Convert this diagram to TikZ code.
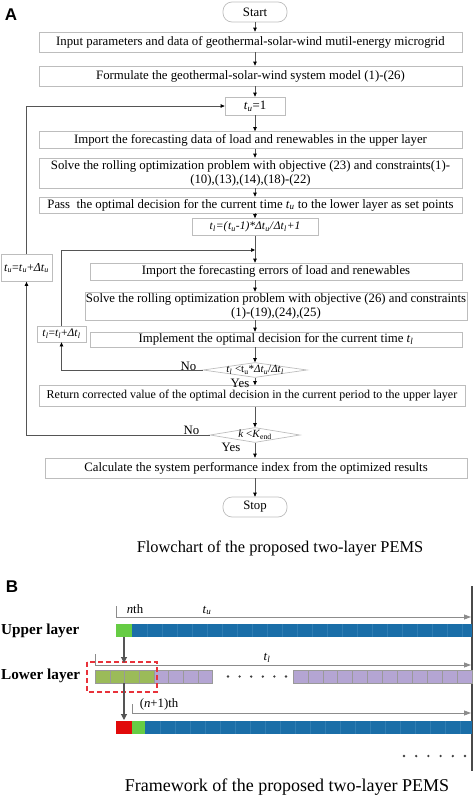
\documentclass[tikz,border=0pt]{standalone}
\usepackage{fontspec}
\setmainfont{Liberation Serif}
\newfontfamily\panelfont{Liberation Sans}
\usetikzlibrary{shapes.geometric,arrows.meta,positioning,calc}
\definecolor{edgegray}{HTML}{BDBDBD}
\definecolor{flowgray}{HTML}{555555}
\definecolor{axisgray}{HTML}{8C8C8C}
\definecolor{wallgray}{HTML}{4A4A4A}
\definecolor{barblue}{HTML}{1A6EA8}
\definecolor{gridblue}{HTML}{2F7DB3}
\definecolor{cellgreen}{HTML}{66CC44}
\definecolor{olive}{HTML}{9BBB59}
\definecolor{lilac}{HTML}{B4A5D3}
\definecolor{cellred}{HTML}{E10A0A}
\definecolor{dashred}{HTML}{E8323A}
\newcommand{\boxfont}{\fontsize{12.8}{14}\selectfont}
\newcommand{\condfont}{\fontsize{11}{12}\selectfont}
\newcommand{\tsub}[1]{\textit{t}\textsubscript{\textit{#1}}}
\newcommand{\dtsub}[1]{\textit{Δt}\textsubscript{\textit{#1}}}
\tikzset{
  proc/.style={rectangle,draw=edgegray,fill=white,line width=0.7pt,
               minimum height=18pt,inner sep=1pt,font=\boxfont,align=center},
  term/.style={rectangle,rounded corners=9pt,draw=edgegray,line width=0.7pt,
               minimum width=64pt,minimum height=20pt,font=\boxfont},
  cond/.style={diamond,draw=edgegray,line width=0.7pt,inner sep=0pt,
               minimum width=#1,minimum height=15pt},
  condtext/.style={font=\condfont,inner sep=0pt},
  arr/.style={-{Triangle[length=4pt,width=3.5pt,color=black]},
              color=flowgray,line width=0.7pt},
  lbl/.style={font=\boxfont,inner sep=1pt,text=black},
  ax/.style={-{Triangle[length=7pt,width=5pt]},color=axisgray,line width=0.8pt},
  tick/.style={color=axisgray,line width=0.8pt},
  dwn/.style={-{Triangle[length=6pt,width=6pt]},color=flowgray,line width=1.1pt},
  cellbox/.style={draw=gray!80,line width=0.5pt,fill=#1},
  layer/.style={font=\bfseries\fontsize{15.2}{17}\selectfont,anchor=west,inner sep=0pt},
  panel/.style={font=\panelfont\bfseries\fontsize{17}{18}\selectfont,inner sep=0pt},
}

\begin{document}
\begin{tikzpicture}[x=1pt,y=-1pt]
  \useasboundingbox (0,0) rectangle (474,798);

  %% ── panel A: flowchart ───────────────────────────────────────────────────
  \node[panel] (lblA) at (11,15) {A};
  \coordinate (spine) at (255,0);

  \node[term] (start) at (255,12) {Start};
  \node[proc,minimum width=423pt,minimum height=20pt] (inp) at (250.5,42)
    {Input parameters and data of geothermal-solar-wind mutil-energy microgrid};
  \node[proc,minimum width=423pt,minimum height=20pt] (form) at (250.5,76)
    {Formulate the geothermal-solar-wind system model (1)-(26)};
  \node[proc,minimum width=60pt] (tuone) at (255,106) {\tsub{u}=1};
  \node[proc,minimum width=423pt,minimum height=17pt] (fcup) at (250.5,140)
    {Import the forecasting data of load and renewables in the upper layer};
  \node[proc,minimum width=423pt,minimum height=30pt] (solveup) at (250.5,173)
    {Solve the rolling optimization problem with objective (23) and constraints(1)-\\(10),(13),(14),(18)-(22)};
  \node[proc,minimum width=423pt,minimum height=16pt] (pass) at (250.5,205)
    {Pass\ \ the optimal decision for the current time \tsub{u} to the lower layer as set points};
  \node[proc,minimum width=126pt,minimum height=17pt,font=\fontsize{11.5}{13}\selectfont]
    (tlset) at (255,227)
    {\tsub{l}\textit{=(}\tsub{u}\textit{-1)*}\dtsub{u}\textit{/}\dtsub{l}\textit{+1}};

  %% ── lower layer loop ─────────────────────────────────────────────────────
  \node[proc,minimum width=372pt,minimum height=17pt] (fcerr) at (276,271.5)
    {Import the forecasting errors of load and renewables};
  \node[proc,minimum width=372pt,minimum height=28pt] (solvelo) at (276,306)
    {Solve the rolling optimization problem with objective (26) and constraints\\(1)-(19),(24),(25)};
  \node[proc,minimum width=372pt,minimum height=15pt] (impl) at (276,339.5)
    {Implement the optimal decision for the current time \tsub{l}};
  \node[cond=104pt,label={[condtext]center:\tsub{l} <t\textsubscript{u}*\dtsub{u}/\dtsub{l}}]
    (chkl) at (255,370) {};
  \node[proc,minimum width=426pt,minimum height=21pt,inner sep=0.5pt,
        font=\fontsize{12}{14}\selectfont] (ret) at (252,396)
    {Return corrected value of the optimal decision in the current period to the upper layer};
  \node[cond=90pt,label={[condtext]center:\textit{k} <\textit{K}\textsubscript{end}}]
    (chkk) at (255,435) {};
  \node[proc,minimum width=422pt,minimum height=20pt] (calc) at (256,468)
    {Calculate the system performance index from the optimized results};
  \node[term] (stop) at (255,507) {Stop};

  %% ── time increments ──────────────────────────────────────────────────────
  \node[proc,minimum width=51pt,minimum height=27pt,inner sep=0.5pt,
        font=\fontsize{12}{14}\selectfont] (tuinc) at (26.5,268)
    {\tsub{u}=\tsub{u}+\dtsub{u}};
  \node[proc,minimum width=49pt,minimum height=16pt,inner sep=0.5pt,
        font=\fontsize{11.5}{13}\selectfont] (tlinc) at (61.5,334)
    {\tsub{l}=\tsub{l}+\dtsub{l}};

  %% ── main spine ───────────────────────────────────────────────────────────
  \draw[arr] (start.south -| spine) -- (inp.north -| spine);
  \draw[arr] (inp.south -| spine)   -- (form.north -| spine);
  \draw[arr] (form.south -| spine)  -- (tuone.north);
  \draw[arr] (tuone.south)          -- (fcup.north -| spine);
  \draw[arr] (fcup.south -| spine)  -- (solveup.north -| spine);
  \draw[arr] (solveup.south -| spine) -- (pass.north -| spine);
  \draw[arr] (pass.south -| spine)  -- (tlset.north);
  \coordinate (join) at (255,250);
  \draw[arr] (tlset.south) -- (fcerr.north -| spine);
  \draw[arr] (fcerr.south -| spine) -- (solvelo.north -| spine);
  \draw[arr] (solvelo.south -| spine) -- (impl.north -| spine);
  \draw[arr] (impl.south -| spine)  -- (chkl.north);
  \draw[arr] (chkl.south) -- (ret.north -| spine);
  \node[lbl] (yesl) at (240,383) {Yes};
  \draw[arr] (ret.south -| spine) -- (chkk.north);
  \draw[arr] (chkk.south) -- (calc.north -| spine);
  \node[lbl] (yesk) at (231,447) {Yes};
  \draw[arr] (calc.south -| spine) -- (stop.north);

  %% ── feedback loops ───────────────────────────────────────────────────────
  \draw[arr] (chkl.west) -| (tlinc.south)
    node[lbl,pos=0.05,above=-2pt] {No};
  \draw[arr] (tlinc.north) |- (join);
  \draw[arr] (chkk.west) -| (tuinc.south)
    node[lbl,pos=0.05,above=-1pt] {No};
  \draw[arr] (tuinc.north) |- (tuone.west);

  \node[font=\fontsize{16.4}{18}\selectfont] (capA) at (280,548)
    {Flowchart of the proposed two-layer PEMS};

  %% ── panel B: framework ───────────────────────────────────────────────────
  \node[panel] (lblB) at (12,587) {B};
  \draw[wallgray,line width=1.8pt] (472,586) -- (472,771);

  \node[layer] (upper) at (1,631) {Upper layer};
  \node[layer] (lower) at (1,676) {Lower layer};

  % upper layer bar
  \draw[tick] (116,606) -- (116,618);
  \draw[ax] (116,617) -- (471,617);
  \node[font=\boxfont,anchor=base] (nth) at (135,613) {\textit{n}th};
  \node[font=\boxfont,anchor=base] (tuB) at (207,613) {\tsub{u}};
  \fill[barblue] (132,624) rectangle (472,637);
  \foreach \x in {147,162,...,462} \draw[gridblue,line width=0.4pt] (\x,624) -- (\x,637);
  \fill[cellgreen] (116,624) rectangle (132,637);

  % lower layer bar
  \draw[tick] (95,654) -- (95,666);
  \draw[ax] (95,665) -- (471,665);
  \node[font=\boxfont,anchor=base] (tlB) at (267,660) {\tsub{l}};
  \foreach \i in {0,...,3} \draw[cellbox=olive] (95+\i*14.75,670) rectangle ++(14.75,13);
  \foreach \i in {0,...,3} \draw[cellbox=lilac] (154+\i*14.6,670) rectangle ++(14.6,13);
  \foreach \i in {0,...,5} \fill[black!75] (228+\i*11.6,676.5) circle (1.3pt);
  \foreach \i in {0,...,11} \draw[cellbox=lilac] (293+\i*14.9,670) rectangle ++(14.9,13);
  \draw[dashred,line width=1.4pt,dash pattern=on 5pt off 3pt] (87,662) rectangle (157,692);

  % next period bar
  \draw[tick] (132,704) -- (132,714);
  \draw[ax] (132,713) -- (471,713);
  \node[font=\boxfont,anchor=base] (nnext) at (159,707) {(\textit{n}+1)th};
  \fill[barblue] (145,721) rectangle (472,734);
  \foreach \x in {160,175,...,460} \draw[gridblue,line width=0.4pt] (\x,721) -- (\x,734);
  \fill[cellred] (116,721) rectangle (132,734);
  \fill[cellgreen] (132,721) rectangle (145,734);
  \foreach \i in {0,...,5} \fill[black!75] (404+\i*12.2,756) circle (1.3pt);

  \draw[dwn] (124,637) -- (124,663);
  \draw[dwn] (124,683) -- (124,720);

  \node[font=\fontsize{18}{20}\selectfont] (capB) at (287,787)
    {Framework of the proposed two-layer PEMS};

\end{tikzpicture}
\end{document}
